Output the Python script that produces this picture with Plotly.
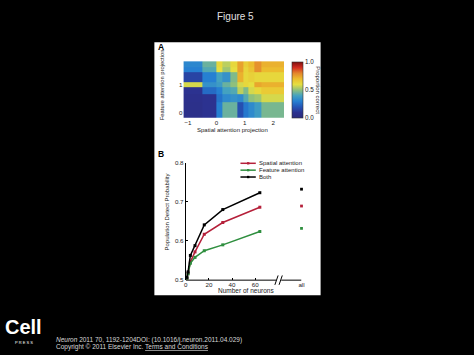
import plotly.graph_objects as go

W, H = 474, 355
def px(x): return x / W
def py(y): return 1 - y / H

# ---------------- Panel A data (binned heatmap, non-uniform bins) ----------------
spatial_edges = [-1.164, -0.49, 0.0, 0.22, 0.5, 0.73, 0.94, 1.14, 1.34, 1.6, 2.38]
feature_edges = [-0.174, 0.383, 0.672, 0.906, 1.08, 1.43, 1.64, 1.836]
proportion_correct = [
    [0.07, 0.10, 0.30, 0.45, 0.45, 0.18, 0.28, 0.33, 0.38, 0.47],
    [0.08, 0.10, 0.27, 0.33, 0.35, 0.33, 0.42, 0.50, 0.52, 0.58],
    [0.10, 0.25, 0.30, 0.40, 0.42, 0.55, 0.48, 0.58, 0.62, 0.66],
    [0.58, 0.35, 0.38, 0.45, 0.50, 0.58, 0.62, 0.60, 0.74, 0.72],
    [0.15, 0.30, 0.40, 0.35, 0.48, 0.72, 0.62, 0.64, 0.62, 0.62],
    [0.30, 0.42, 0.60, 0.52, 0.60, 0.75, 0.63, 0.68, 0.78, 0.70],
    [0.32, 0.45, 0.62, 0.55, 0.62, 0.75, 0.65, 0.70, 0.78, 0.72],
]

# ---------------- Panel B data ----------------
n_neurons = [1, 2, 4, 8, 16, 32, 64]
spatial = [0.505, 0.518, 0.546, 0.572, 0.617, 0.647, 0.686]
feature = [0.505, 0.516, 0.543, 0.558, 0.575, 0.590, 0.624]
both = [0.507, 0.521, 0.563, 0.588, 0.641, 0.680, 0.723]
all_x = 100
all_vals = {"Spatial attention": 0.689, "Feature attention": 0.632, "Both": 0.732}
series_names = ["Spatial attention", "Feature attention", "Both"]
series_colors = ["#b5203a", "#2f8f3f", "#000000"]
x_tickvals = [0, 20, 40, 60, 100]
x_ticktext = ["0", "20", "40", "60", "all"]
y_tickvals = [0.5, 0.6, 0.7, 0.8]

FONT = "Liberation Sans, Arial, sans-serif"
TXT = "#1a1a1a"

cs = [
    [0.0, '#2b2a7c'], [0.1, '#2c3290'], [0.2, '#2456b8'], [0.3, '#2680d2'],
    [0.4, '#44a2c0'], [0.5, '#8fc07c'], [0.6, '#e6de40'], [0.7, '#ecbc2e'],
    [0.8, '#e4862c'], [0.9, '#d22c20'], [1.0, '#7e1010'],
]

fig = go.Figure()

fig.add_trace(go.Heatmap(
    x=spatial_edges, y=feature_edges, z=proportion_correct,
    colorscale=cs, zmin=0, zmax=1, xaxis="x", yaxis="y",
    colorbar=dict(x=px(293), xanchor="left", thickness=11, thicknessmode="pixels",
                  len=57 / H, lenmode="fraction", y=py(87.5), yanchor="middle",
                  tickvals=[0, 0.5, 1.0], ticktext=["0.0", "0.5", "1.0"],
                  tickfont=dict(size=6.3, color=TXT, family=FONT), ticks="",
                  outlinewidth=0.6, outlinecolor="#333", xpad=0, ypad=0),
))

data_b = [spatial, feature, both]
for name, vals, col in zip(series_names, data_b, series_colors):
    fig.add_trace(go.Scatter(
        x=n_neurons, y=vals, mode="lines+markers", name=name,
        line=dict(color=col, width=1.5), marker=dict(color=col, size=3, symbol="square"),
        xaxis="x2", yaxis="y2", showlegend=False, cliponaxis=False))
    fig.add_trace(go.Scatter(
        x=[all_x], y=[all_vals[name]], mode="markers", name=name + " all",
        marker=dict(color=col, size=2.8, symbol="square"),
        xaxis="x2", yaxis="y2", showlegend=False, cliponaxis=False))

tickfont = dict(size=6.2, color=TXT, family=FONT)
fig.update_layout(
    width=W, height=H, margin=dict(l=0, r=0, t=0, b=0),
    paper_bgcolor="black", plot_bgcolor="white", showlegend=False,
    xaxis=dict(domain=[px(183.3), px(285)], range=[-1.164, 2.38], tickvals=[-1, 0, 1, 2],
               ticks="", showgrid=False, zeroline=False,
               showline=False, tickfont=tickfont, anchor="y", fixedrange=True),
    yaxis=dict(domain=[py(116), py(58.3)], range=[-0.174, 1.836], tickvals=[0, 1],
               ticks="", showgrid=False, zeroline=False,
               showline=False, tickfont=tickfont, anchor="x"),
    xaxis2=dict(domain=[px(185.7), px(302.7)], range=[0, 100], tickvals=x_tickvals,
                ticktext=x_ticktext, ticks="inside", ticklen=2, tickcolor="#000",
                showgrid=False, zeroline=False, showline=False, tickfont=tickfont,
                anchor="y2"),
    yaxis2=dict(domain=[py(281.7), py(161.7)], range=[0.5, 0.8], tickvals=y_tickvals,
                tickformat=".1f", ticks="inside", ticklen=2, tickcolor="#000",
                showgrid=False, zeroline=False, showline=True, linecolor="#000", linewidth=1,
                tickfont=tickfont, anchor="x2"),
)

shapes = [
    dict(type="rect", xref="paper", yref="paper", x0=px(154), x1=px(322), y0=py(297), y1=py(39),
         fillcolor="white", line=dict(width=0), layer="below"),
    # broken x-axis line of panel B
    dict(type="line", xref="x2", yref="y2 domain", x0=0, x1=78.2, y0=0, y1=0,
         line=dict(color="#000", width=1)),
    dict(type="line", xref="x2", yref="y2 domain", x0=82.5, x1=100, y0=0, y1=0,
         line=dict(color="#000", width=1)),
    dict(type="line", xref="x2", yref="y2 domain", x0=77.0, x1=79.8, y0=-0.04, y1=0.04,
         line=dict(color="#000", width=1)),
    dict(type="line", xref="x2", yref="y2 domain", x0=80.6, x1=83.4, y0=-0.04, y1=0.04,
         line=dict(color="#000", width=1)),
]
# manual legend
leg_y = [162.5, 169.5, 176.5]
annotations = []
for name, col, yy in zip(series_names, series_colors, leg_y):
    shapes.append(dict(type="line", xref="paper", yref="paper", x0=px(241), x1=px(256.5),
                       y0=py(yy), y1=py(yy), line=dict(color=col, width=1.5)))
    shapes.append(dict(type="rect", xref="paper", yref="paper", x0=px(247.6), x1=px(250),
                       y0=py(yy + 1.2), y1=py(yy - 1.2), fillcolor=col, line=dict(width=0)))
    annotations.append(dict(x=px(257.5), y=py(yy), xref="paper", yref="paper", text=name,
                            showarrow=False, xanchor="left", yanchor="middle",
                            font=dict(size=6, color=TXT, family=FONT)))

def ann(text, x, y, size=6, color=TXT, angle=0, xanchor="center", bold=False):
    if bold:
        text = "<b>" + text + "</b>"
    annotations.append(dict(x=px(x), y=py(y), xref="paper", yref="paper", text=text,
                            showarrow=False, xanchor=xanchor, yanchor="middle", textangle=angle,
                            font=dict(size=size, color=color, family=FONT)))

ann("Figure 5", 236, 13, size=10, color="#e0e0e0")
ann("A", 155.5, 44, size=8.5, color="#000", xanchor="left", bold=True)
ann("B", 155.5, 153, size=8.5, color="#000", xanchor="left", bold=True)
ann("Spatial attention projection", 233, 128.5, size=6)
ann("Feature attention projection", 162.5, 82, size=5.8, angle=-90)
ann("Proportion correct", 319.5, 88, size=6, angle=90)
ann("Number of neurons", 246.5, 292.5, size=6.5)
ann("Population Detect Probability", 167, 212.5, size=6, angle=-90)
ann("<i>Neuron</i> 2011 70, 1192-1204DOI: (10.1016/j.neuron.2011.04.029)", 53, 342.5,
    size=6.5, color="#d8d8d8", xanchor="left")
ann("Copyright © 2011 Elsevier Inc. <span style='text-decoration:underline'>Terms and Conditions</span>",
    53, 349.5, size=6.5, color="#d8d8d8", xanchor="left")
ann("Cell", 22, 329, size=20, color="white", bold=True)
ann("P R E S S", 22, 345.5, size=4, color="white")

fig.update_layout(shapes=shapes, annotations=annotations)
fig.write_html("out.html")
